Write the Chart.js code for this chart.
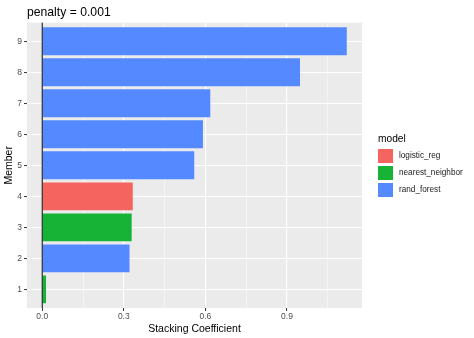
<!DOCTYPE html>
<html>
<head>
<meta charset="utf-8">
<script src="https://cdn.jsdelivr.net/npm/chart.js@4"></script>
<style>
  body { margin: 0; background: #fff; }
  #wrap { width: 474px; height: 338px; }
</style>
</head>
<body>
<div id="wrap"><canvas id="myChart" width="474" height="338"></canvas></div>
<script>
// member number, fitted stacking coefficient, and model type
const members = [1, 2, 3, 4, 5, 6, 7, 8, 9];
const coefs = [0.014, 0.321, 0.329, 0.333, 0.559, 0.591, 0.618, 0.948, 1.12];
const memberModel = ["nearest_neighbor", "rand_forest", "nearest_neighbor", "logistic_reg",
    "rand_forest", "rand_forest", "rand_forest", "rand_forest", "rand_forest"];
const models = ["logistic_reg", "nearest_neighbor", "rand_forest"];
const modelColors = ["#F6645F", "#17B337", "#5589FF"];
const xTicks = [0, 0.15, 0.3, 0.45, 0.6, 0.75, 0.9, 1.05];

const colorFor = m => modelColors[models.indexOf(m)];
const FONT = "'Liberation Sans', Arial, sans-serif";

// grey panel + vline at 0 + legend
const ggPlugin = {
    id: "gg",
    beforeDraw(chart) {
        const { ctx, chartArea: a } = chart;
        ctx.save();
        ctx.fillStyle = "#EBEBEB";
        ctx.fillRect(a.left, a.top, a.right - a.left, a.bottom - a.top);
        ctx.restore();
    },
    afterDatasetsDraw(chart) {
        const { ctx, chartArea: a } = chart;
        const x0 = chart.scales.x.getPixelForValue(0);
        ctx.save();
        ctx.strokeStyle = "#000";
        ctx.lineWidth = 1;
        ctx.beginPath();
        ctx.moveTo(x0, a.top);
        ctx.lineTo(x0, a.bottom);
        ctx.stroke();
        ctx.restore();
    },
    afterDraw(chart) {
        const { ctx, chartArea: a } = chart;
        const lx = a.right + 16;
        const top = 148;
        ctx.save();
        ctx.fillStyle = "#000";
        ctx.font = "10.2px " + FONT;
        ctx.textBaseline = "middle";
        ctx.fillText("model", lx, 139);
        ctx.font = "8.2px " + FONT;
        models.forEach((m, i) => {
            const y = top + i * 17;
            ctx.fillStyle = modelColors[i];
            ctx.fillRect(lx, y + 1, 15, 14);
            ctx.fillStyle = "#1A1A1A";
            ctx.fillText(m, lx + 21, y + 8);
        });
        ctx.restore();
    }
};

const ctx = document.getElementById("myChart").getContext("2d");
const myChart = new Chart(ctx, {
    type: "bar",
    data: {
        datasets: [{
            data: members.map((m, i) => ({ x: coefs[i], y: m })),
            backgroundColor: memberModel.map(colorFor),
            borderWidth: 0,
            barPercentage: 0.9,
            categoryPercentage: 1
        }]
    },
    options: {
        indexAxis: "y",
        responsive: false,
        animation: false,
        layout: { padding: { left: 3, right: 112, top: 0, bottom: 0 } },
        plugins: {
            legend: { display: false },
            tooltip: { enabled: false },
            title: {
                display: true,
                text: "penalty = 0.001",
                align: "start",
                fullSize: false,
                color: "#000",
                font: { family: FONT, size: 12.2, weight: "normal" },
                padding: { top: 5, bottom: 3 }
            }
        },
        scales: {
            x: {
                type: "linear",
                min: -0.056,
                max: 1.176,
                afterBuildTicks: s => { s.ticks = xTicks.map(v => ({ value: v })); },
                afterFit: s => { s.height = 30; },
                border: { display: false },
                grid: {
                    color: "#fff",
                    lineWidth: c => (Math.round(c.tick.value * 100) % 30 === 0 ? 1.1 : 0.5),
                    tickColor: c => (Math.round(c.tick.value * 100) % 30 === 0 ? "#333" : "rgba(0,0,0,0)"),
                    tickLength: 3,
                    tickWidth: 1
                },
                ticks: {
                    autoSkip: false,
                    maxRotation: 0,
                    padding: 1,
                    color: "#4D4D4D",
                    font: { family: FONT, size: 8.5 },
                    callback: v => (Math.round(v * 100) % 30 === 0 ? v.toFixed(1) : "")
                },
                title: {
                    display: true,
                    text: "Stacking Coefficient",
                    color: "#000",
                    font: { family: FONT, size: 10.5 },
                    padding: { top: 1, bottom: 3 }
                }
            },
            y: {
                type: "linear",
                min: 0.4,
                max: 9.6,
                offset: false,
                afterBuildTicks: s => { s.ticks = members.map(v => ({ value: v })); },
                afterFit: s => { s.width = 24; },
                border: { display: false },
                grid: {
                    offset: false,
                    color: "#fff",
                    lineWidth: 1.1,
                    tickColor: "#333",
                    tickLength: 3,
                    tickWidth: 1
                },
                ticks: {
                    padding: 2,
                    color: "#4D4D4D",
                    font: { family: FONT, size: 8.5 },
                    callback: v => String(v)
                },
                title: {
                    display: true,
                    text: "Member",
                    color: "#000",
                    font: { family: FONT, size: 10.5 },
                    padding: { top: 0, bottom: 0 }
                }
            }
        }
    },
    plugins: [ggPlugin]
});
</script>
</body>
</html>
